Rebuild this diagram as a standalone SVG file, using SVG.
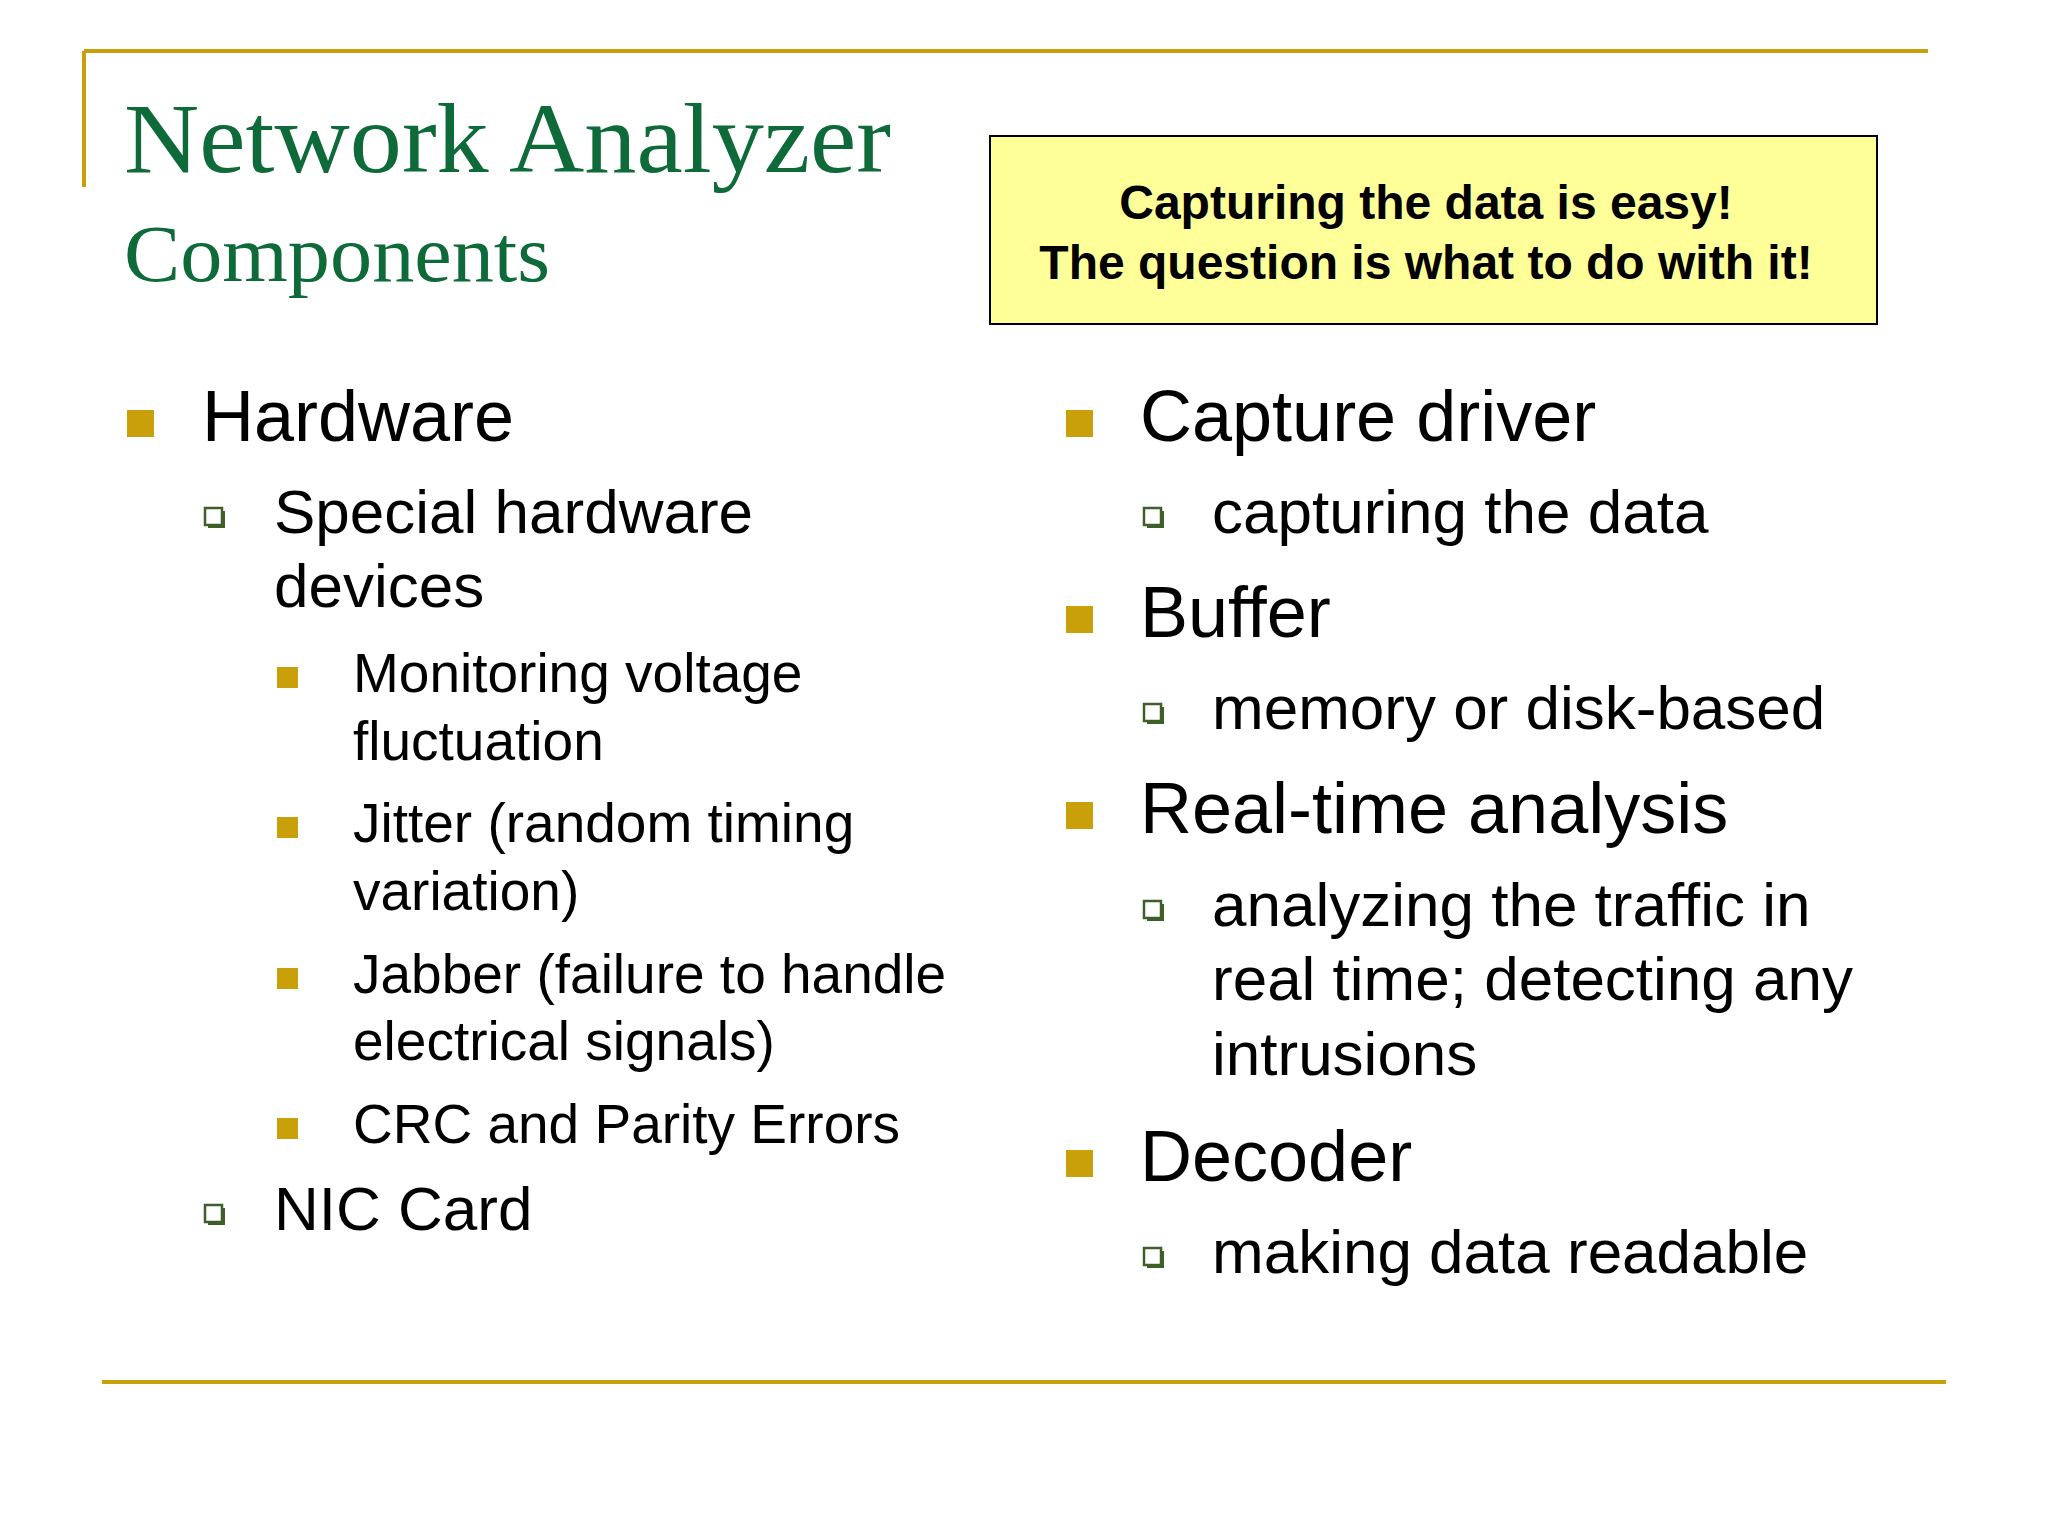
<svg xmlns="http://www.w3.org/2000/svg" width="2048" height="1536" viewBox="0 0 2048 1536">
<defs>
<style>
.t{font-family:"Liberation Serif",serif;fill:#0e6a38}
.s{font-family:"Liberation Sans",Arial,sans-serif;fill:#000}
.l1{font-size:72px}.l2{font-size:62px}.l3{font-size:55px}
.b{fill:#c9a00a}
.h{fill:#fff;stroke:#3f5f2a;stroke-width:2.5}
.hs{fill:#3f5f2a}
</style>
<g id="hb"><rect class="hs" x="3" y="3" width="17" height="17"/><rect class="h" x="0" y="0" width="17" height="17"/></g>
</defs>
<rect width="2048" height="1536" fill="#fff"/>
<g id="frame" stroke="#c9a00a" stroke-width="4" fill="none">
<path d="M84 51H1928M84 51V187M102 1382H1946"/>
</g>
<g id="title">
<text class="t" x="124" y="172" font-size="100" textLength="767" lengthAdjust="spacingAndGlyphs">Network Analyzer</text>
<text class="t" x="124" y="281" font-size="80" textLength="426" lengthAdjust="spacingAndGlyphs">Components</text>
</g>
<g id="callout">
<rect x="990" y="136" width="887" height="188" fill="#ffff99" stroke="#000" stroke-width="2"/>
<text class="s" x="1426" y="219" font-size="48" font-weight="bold" text-anchor="middle">Capturing the data is easy!</text>
<text class="s" x="1426" y="279" font-size="48" font-weight="bold" text-anchor="middle">The question is what to do with it!</text>
</g>
<g id="left">
<rect class="b" x="127" y="410" width="27" height="27"/>
<text class="s l1" x="202" y="441">Hardware</text>
<use href="#hb" x="205" y="508"/>
<text class="s l2" x="274" y="533">Special hardware</text>
<text class="s l2" x="274" y="607">devices</text>
<rect class="b" x="277" y="667" width="21" height="21"/>
<text class="s l3" x="353" y="692">Monitoring voltage</text>
<text class="s l3" x="353" y="760">fluctuation</text>
<rect class="b" x="277" y="817" width="21" height="21"/>
<text class="s l3" x="353" y="842">Jitter (random timing</text>
<text class="s l3" x="353" y="910">variation)</text>
<rect class="b" x="277" y="968" width="21" height="21"/>
<text class="s l3" x="353" y="993">Jabber (failure to handle</text>
<text class="s l3" x="353" y="1060">electrical signals)</text>
<rect class="b" x="277" y="1118" width="21" height="21"/>
<text class="s l3" x="353" y="1143">CRC and Parity Errors</text>
<use href="#hb" x="205" y="1205"/>
<text class="s l2" x="274" y="1230">NIC Card</text>
</g>
<g id="right">
<rect class="b" x="1066" y="410" width="27" height="27"/>
<text class="s l1" x="1140" y="441">Capture driver</text>
<use href="#hb" x="1144" y="508"/>
<text class="s l2" x="1212" y="533">capturing the data</text>
<rect class="b" x="1066" y="606" width="27" height="27"/>
<text class="s l1" x="1140" y="637">Buffer</text>
<use href="#hb" x="1144" y="704"/>
<text class="s l2" x="1212" y="729">memory or disk-based</text>
<rect class="b" x="1066" y="802" width="27" height="27"/>
<text class="s l1" x="1140" y="833">Real-time analysis</text>
<use href="#hb" x="1144" y="901"/>
<text class="s l2" x="1212" y="926">analyzing the traffic in</text>
<text class="s l2" x="1212" y="1000">real time; detecting any</text>
<text class="s l2" x="1212" y="1075">intrusions</text>
<rect class="b" x="1066" y="1150" width="27" height="27"/>
<text class="s l1" x="1140" y="1181">Decoder</text>
<use href="#hb" x="1144" y="1248"/>
<text class="s l2" x="1212" y="1273">making data readable</text>
</g>
</svg>
